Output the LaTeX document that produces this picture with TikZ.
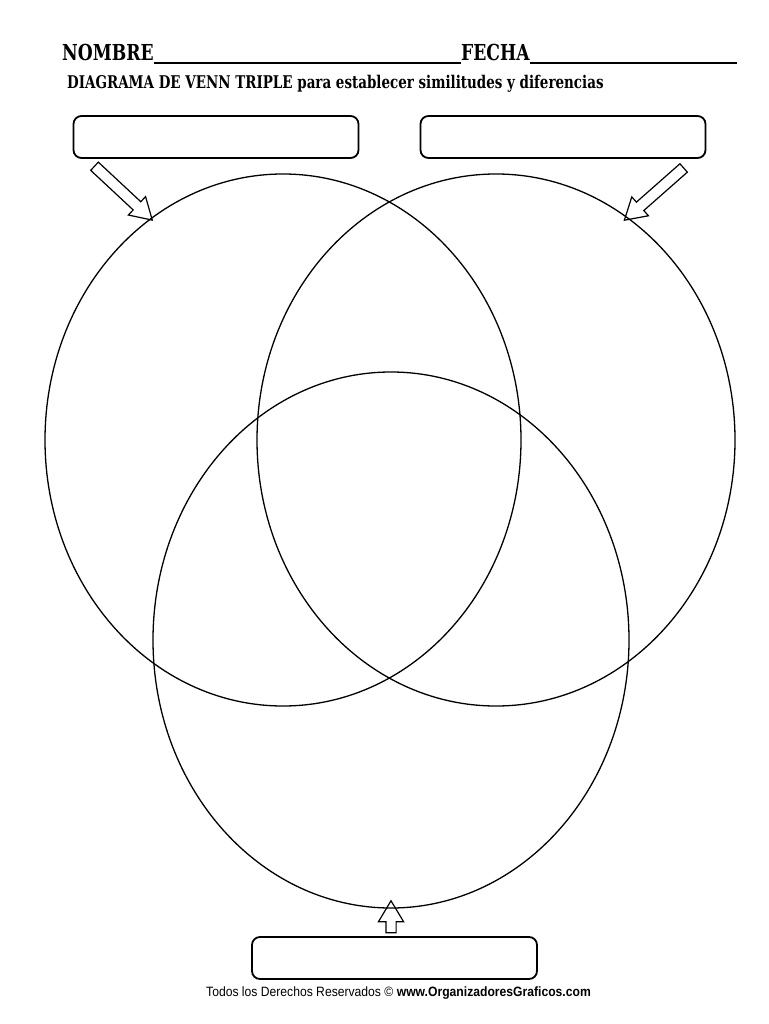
\documentclass[tikz,border=0pt]{standalone}
\usepackage{fontspec}
\usepackage{tikz}
\usetikzlibrary{shapes.arrows}
\setmainfont{DejaVu Serif}
\newfontfamily\headfont{DejaVu Serif}[FakeStretch=0.78]
\newfontfamily\titlefont{DejaVu Serif}[FakeStretch=0.769]
\newfontfamily\footfont{Liberation Sans}[FakeStretch=0.9]

\begin{document}
\begin{tikzpicture}[x=1pt,y=-1pt]
            \tikzstyle{every node}+=[inner sep=0pt]
            \tikzstyle{namebox}=[draw, rounded corners=8pt, line width=1.8pt, minimum width=285pt, minimum height=42pt]
            \tikzstyle{hollowarrow}=[draw, single arrow, line width=1.2pt, inner sep=5pt, single arrow head extend=7pt, single arrow tip angle=62]
            \tikzstyle{venn}=[line width=1.3pt]
            \useasboundingbox (0,0) rectangle (768,1024);
            % header
            \node [anchor=base west, font=\headfont\bfseries\fontsize{22}{22}\selectfont] (nombre) at (62,61) {NOMBRE};
            \node [anchor=base west, font=\headfont\bfseries\fontsize{22}{22}\selectfont] (fecha) at (461,61) {FECHA};
            \draw [line width=1.6pt] ([yshift=-2pt]nombre.base east) -- ([yshift=-2pt]fecha.base west);
            \draw [line width=1.6pt] ([yshift=-2pt]fecha.base east) -- (737,63);
            \node [anchor=base west, font=\titlefont\bfseries\fontsize{17.5}{17.5}\selectfont] (title) at (67,89) {DIAGRAMA DE VENN TRIPLE para establecer similitudes y diferencias};
            % boxes
            \node [namebox] (boxA) at (216,137) {};
            \node [namebox] (boxB) at (563,137) {};
            \node [namebox] (boxC) at (394.5,958) {};
            % circles
            \draw [venn] (283,440) ellipse (238 and 266);
            \draw [venn] (496,440) ellipse (239 and 266);
            \draw [venn] (391,640) ellipse (238 and 268);
            % arrows
            \node [hollowarrow, minimum height=79pt, rotate=-43] (arrA) at (120,190) {};
            \node [hollowarrow, minimum height=79pt, rotate=-138.6] (arrB) at (657.5,191) {};
            \node [hollowarrow, minimum height=32pt, inner sep=4.5pt, single arrow head extend=7.5pt, rotate=90] (arrC) at (391,921) {};
            % footer
            \node [anchor=base, font=\footfont\fontsize{13.5}{13.5}\selectfont] (foot) at (398.5,996) {Todos los Derechos Reservados © \textbf{www.OrganizadoresGraficos.com}};
\end{tikzpicture}
\end{document}
